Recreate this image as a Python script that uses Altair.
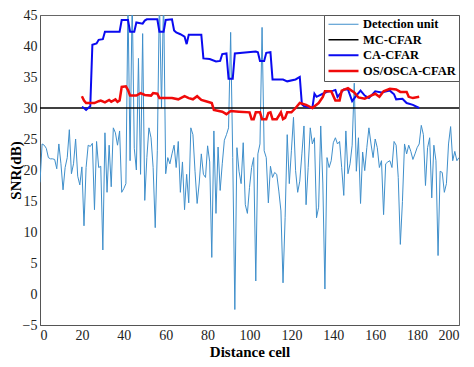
import altair as alt
import pandas as pd

# ---- data ----
det_x = list(range(0, 201))
det_y = [
    18, 24.2, 24, 23.5, 22, 21.8, 21.8, 21.7, 20.2, 24.2,
    21, 16.8, 20.4, 22, 26.5, 19.4, 21, 25, 19, 17.6,
    20.5, 11, 20.4, 24, 23.8, 24.3, 13.6, 24.6, 20.4, 20.6,
    7.1, 26, 16.4, 24, 17.3, 26.8, 26, 24, 26.3, 16.4,
    17, 17.8, 47, 21.5, 48, 23.5, 20, 38, 19.3, 42,
    15.1, 22, 26.8, 25.2, 20.4, 10.7, 23.1, 48, 30, 48,
    19.4, 22, 21, 22.6, 24, 20.4, 24.6, 16.4, 21.3, 13.6,
    19.3, 14.7, 26.8, 25.7, 19.8, 14.6, 17.9, 22.6, 19.3, 18.8,
    23.9, 21.3, 5.9, 26.3, 13, 23.7, 16.7, 21, 24.8, 25.7,
    26.8, 42.2, 22, -2.5, 23.6, 19.8, 17.8, 24.4, 14.4, 13,
    17.2, 20.4, 22, 2.1, 22.6, 24.2, 43, 23.1, 22, 14.7,
    20.6, 18.8, 19.6, 19.3, 16.6, 13.4, 1.8, 12.3, 25.7, 17.8,
    23.1, 28.5, 19.9, 16.4, 18.2, 22.6, 27.1, 14.4, 20.4, 26.8,
    24.2, 25.2, 12.3, 14, 27.1, 17.9, 0.8, 22, 20.4, 21.5,
    24.4, 25.2, 24.2, 24.6, 20.4, 15.9, 26.3, 19.4, 21, 24,
    34, 19.8, 25.2, 14.6, 22.9, 19.9, 23.6, 26.8, 24.2, 22,
    25, 23.6, 20.4, 21.5, 12.8, 21, 21.3, 21.5, 20.4, 24.6,
    24, 18.8, 8, 14.9, 24.2, 22.6, 24, 23, 21.7, 22.6,
    23.6, 24.2, 27.2, 25.7, 17.5, 23.6, 25.2, 15.5, 24, 21.5,
    6.2, 19.8, 19.6, 16.4, 17.8, 24.2, 27, 21.5, 23, 21.5,
    22,
]

mc_x = [0, 200]
mc_y = [30, 30]

ca_x = [20, 21, 22, 23, 24, 25, 27, 28, 30, 31, 38, 39, 42, 43, 45, 46, 49, 50,
        51, 56, 57, 59, 60, 63, 64, 65, 67, 69, 70, 71, 77, 78, 81, 84, 86, 87,
        89, 90, 92, 93, 103, 104, 105, 107, 108, 110, 111, 116, 118, 122, 124,
        125, 126, 130, 131, 132, 135, 137, 140, 141, 142, 145, 147, 149, 151,
        153, 155, 157, 160, 163, 167, 169, 170, 173, 175, 178, 181]
ca_y = [30.2, 30.0, 29.7, 30.0, 30.3, 40.2, 40.4, 41.0, 41.1, 42.3, 42.3, 44.2,
        44.2, 42.3, 42.3, 43.8, 43.6, 44.1, 44.3, 44.3, 42.3, 42.3, 44.2, 44.3,
        42.5, 42.2, 41.9, 41.5, 40.3, 41.8, 41.8, 38.0, 37.9, 37.5, 37.6, 38.7,
        38.8, 34.7, 34.7, 38.8, 39.1, 39.0, 37.6, 37.6, 38.9, 39.0, 34.6, 34.6,
        34.3, 34.6, 35.0, 30.6, 30.3, 30.0, 32.3, 31.8, 32.3, 32.6, 32.8, 32.9,
        31.8, 33.0, 33.0, 31.1, 32.0, 32.8, 32.0, 31.6, 32.7, 32.5, 32.8, 32.2,
        31.4, 31.5, 30.8, 30.5, 30.0]

os_x = [20, 21, 22, 26, 28, 29, 31, 33, 34, 36, 37, 38, 39, 41, 42, 43, 46, 48,
        50, 53, 54, 56, 57, 63, 66, 69, 71, 73, 75, 77, 80, 82, 83, 87, 89, 91,
        95, 100, 101, 102, 103, 105, 106, 108, 109, 110, 111, 113, 115, 116, 117,
        118, 120, 122, 124, 127, 130, 133, 135, 136, 139, 141, 143, 144, 147,
        150, 152, 155, 158, 160, 162, 164, 167, 170, 172, 175, 176, 178, 181]
os_y = [31.9, 31.2, 30.8, 30.8, 31.1, 31.2, 30.9, 31.3, 31.0, 31.4, 31.0, 31.2,
        33.4, 33.5, 32.9, 32.0, 32.0, 32.4, 32.1, 32.0, 32.4, 32.3, 31.6, 31.6,
        31.4, 31.9, 31.6, 31.4, 31.9, 31.3, 31.0, 30.8, 29.7, 29.4, 29.0, 29.5,
        29.4, 29.3, 28.2, 28.2, 29.3, 29.3, 28.2, 28.2, 29.2, 29.3, 28.2, 28.2,
        29.3, 28.2, 28.4, 29.3, 29.3, 30.0, 30.8, 30.5, 30.0, 30.8, 31.8, 32.7,
        32.7, 31.2, 31.2, 32.8, 33.2, 32.5, 31.7, 31.5, 32.0, 32.3, 31.8, 32.7,
        33.1, 33.0, 32.6, 32.6, 31.8, 31.6, 31.8]

series_names = ["Detection unit", "MC-CFAR", "CA-CFAR", "OS/OSCA-CFAR"]
series_colors = ["#3f8fcb", "#000000", "#0a0af0", "#f00a0a"]
series_widths = [1, 2.5, 2.5, 2.5]
x_ticks = list(range(0, 201, 20))
y_ticks = list(range(-5, 46, 5))

frames = []
for name, xs, ys in zip(series_names, [det_x, mc_x, ca_x, os_x], [det_y, mc_y, ca_y, os_y]):
    frames.append(pd.DataFrame({"series": name, "x": xs, "y": ys, "order": list(range(len(xs)))}))
df = pd.concat(frames, ignore_index=True)

FONT = "Liberation Serif"

base = alt.Chart(df).mark_line(clip=True).encode(
    x=alt.X("x:Q", scale=alt.Scale(domain=[0, 200], nice=False),
            axis=alt.Axis(values=x_ticks, title="Distance cell")),
    y=alt.Y("y:Q", scale=alt.Scale(domain=[-5, 45], nice=False),
            axis=alt.Axis(values=y_ticks, title="SNR(dB)")),
    color=alt.Color("series:N", scale=alt.Scale(domain=series_names, range=series_colors), title=None),
    strokeWidth=alt.StrokeWidth("series:N", scale=alt.Scale(domain=series_names, range=series_widths), title=None),
    order="order:Q",
)

layers = [base.transform_filter(alt.datum.series == s) for s in series_names]

chart = alt.layer(*layers).properties(
    width=419, height=310,
    padding={"left": 0, "top": 0, "right": 0, "bottom": 0},
).configure_view(
    stroke="#666666", strokeWidth=1
).configure_axis(
    grid=False, domainColor="#555555", tickSize=0,
    labelFont=FONT, labelFontSize=14, labelColor="#222222", labelPadding=3,
    titleFont=FONT, titleFontSize=15, titleFontWeight="bold", titleColor="#000000",
).configure_axisY(
    titlePadding=-1
).configure_axisX(
    titlePadding=2
).configure_legend(
    orient="top-right", offset=0, fillColor="white", strokeColor="#555555",
    padding=3, symbolType="M-3,0L3,0", symbolSize=100, symbolOffset=10,
    rowPadding=2.5, labelFont=FONT, labelFontSize=12.5, labelFontWeight="bold",
    labelColor="#000000", labelOffset=13, cornerRadius=0,
)

chart.save("out.html", embed_options={"renderer": "svg", "actions": False})
